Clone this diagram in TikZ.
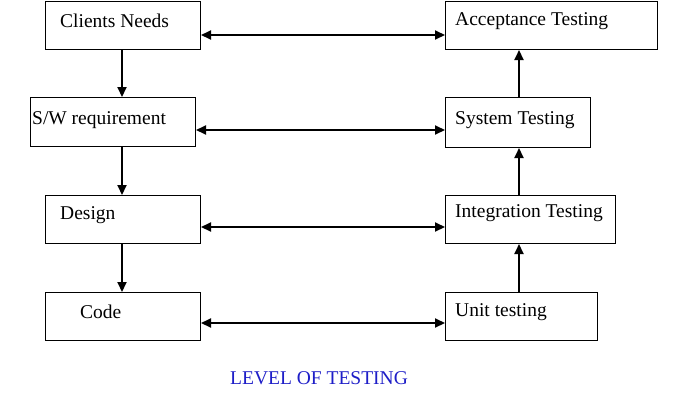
\documentclass[tikz,border=0pt]{standalone}
\usepackage{fontspec}
\setmainfont{Liberation Serif}
\usetikzlibrary{arrows.meta}
\begin{document}
\begin{tikzpicture}[x=1pt,y=-1pt,
  box/.style={draw,line width=1pt,inner sep=0pt,anchor=north west},
  lbl/.style={anchor=west,inner sep=0pt,font=\fontsize{19.5}{22}\selectfont},
  arr/.style={line width=2pt,-{Triangle[length=10pt,width=9pt]}},
  darr/.style={line width=2pt,{Triangle[length=10pt,width=9pt]}-{Triangle[length=10pt,width=9pt]}}]
\useasboundingbox (0,0) rectangle (676,407);
\fill[white] (0,0) rectangle (676,407);
\node[box,minimum width=155pt,minimum height=48pt] (cn) at (45,1) {};
\node[box,minimum width=212pt,minimum height=48pt] (at) at (445,1) {};
\node[box,minimum width=165pt,minimum height=49pt] (sw) at (30,97) {};
\node[box,minimum width=145pt,minimum height=50pt] (st) at (445,97) {};
\node[box,minimum width=155pt,minimum height=48pt] (de) at (45,195) {};
\node[box,minimum width=170pt,minimum height=48pt] (it) at (445,195) {};
\node[box,minimum width=155pt,minimum height=48pt] (co) at (45,292) {};
\node[box,minimum width=152pt,minimum height=48pt] (ut) at (445,292) {};
\node[lbl] (tcn) at (60,21) {Clients Needs};
\node[lbl] (tat) at (455,21) {Acceptance Testing};
\node[lbl] (tsw) at (32,120) {S/W requirement};
\node[lbl] (tst) at (455,120) {System Testing};
\node[lbl] (tde) at (60,215) {Design};
\node[lbl] (tit) at (455,213) {Integration Testing};
\node[lbl] (tco) at (80,312) {Code};
\node[lbl] (tut) at (455,312) {Unit testing};
\node[font=\fontsize{19.5}{22}\selectfont,text={rgb,255:red,30;green,30;blue,200}] (title) at (319,378) {LEVEL OF TESTING};
\draw[darr] (cn.east |- 0,35) -- (at.west |- 0,35);
\draw[darr] (sw.east |- 0,130) -- (st.west |- 0,130);
\draw[darr] (de.east |- 0,227) -- (it.west |- 0,227);
\draw[darr] (co.east |- 0,323) -- (ut.west |- 0,323);
\draw[arr] (cn.south -| 122,0) -- (sw.north -| 122,0);
\draw[arr] (sw.south -| 122,0) -- (de.north -| 122,0);
\draw[arr] (de.south -| 122,0) -- (co.north -| 122,0);
\draw[arr] (ut.north -| 519,0) -- (it.south -| 519,0);
\draw[arr] (it.north -| 519,0) -- (st.south -| 519,0);
\draw[arr] (st.north -| 519,0) -- (at.south -| 519,0);
\end{tikzpicture}
\end{document}
